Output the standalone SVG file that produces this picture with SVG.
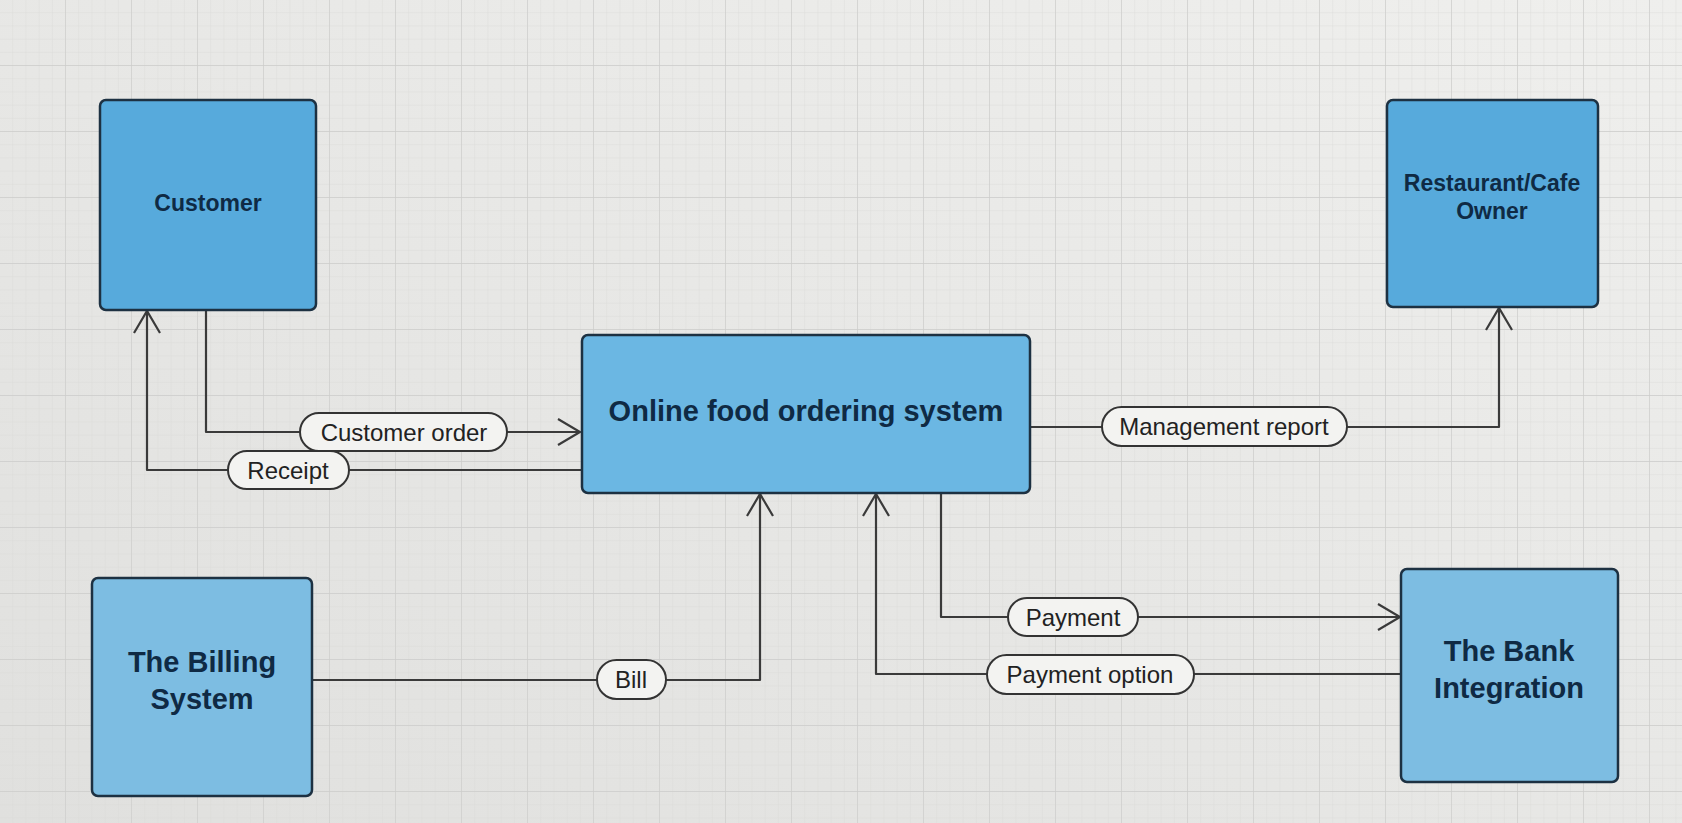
<svg xmlns="http://www.w3.org/2000/svg" width="1682" height="823" viewBox="0 0 1682 823">
<defs>
<pattern id="minor" width="13.2" height="13.2" patternUnits="userSpaceOnUse">
<path d="M13.2,0 V13.2 M0,13.2 H13.2" fill="none" stroke="#d9d9d7" stroke-width="0.8"/>
</pattern>
<pattern id="major" width="66" height="66" patternUnits="userSpaceOnUse">
<path d="M66,0 V66 M0,66 H66" fill="none" stroke="#cdcdcb" stroke-width="1.3"/>
</pattern>
<linearGradient id="bg" x1="1" y1="0" x2="0" y2="1">
<stop offset="0" stop-color="#efefed"/>
<stop offset="1" stop-color="#e0e0de"/>
</linearGradient>
<marker id="arr" markerUnits="userSpaceOnUse" markerWidth="30" markerHeight="30" viewBox="-24 -15 28 30" refX="0" refY="0" orient="auto">
<path d="M-22,-13 L0,0 L-22,13" fill="none" stroke="#3a3a3a" stroke-width="2.2" stroke-linejoin="miter"/>
</marker>
</defs>
<style>
.box{stroke:#1d3142;stroke-width:2.5}
.dark{fill:#57aadc}
.mid{fill:#6bb7e3}
.light{fill:#7dbde2}
.lbl{font-family:"Liberation Sans",Arial,sans-serif;font-weight:bold;fill:#0f2a44;text-anchor:middle;dominant-baseline:central}
.edge{fill:none;stroke:#3a3a3a;stroke-width:2.2;stroke-linejoin:round}
.pill{fill:#f3f3f1;stroke:#333;stroke-width:2}
.pt{font-family:"Liberation Sans",Arial,sans-serif;font-size:24px;fill:#222;text-anchor:middle;dominant-baseline:central}
</style>
<rect width="1682" height="823" fill="url(#bg)"/>
<rect width="1682" height="823" fill="url(#minor)"/>
<rect width="1682" height="823" fill="url(#major)"/>

<g id="connectors">
<g id="e-customer-order">
<path class="edge" d="M206,310 V432 H580" marker-end="url(#arr)"/>
<rect class="pill" x="300" y="413" width="207" height="38" rx="19"/>
<text class="pt" x="404" y="432">Customer order</text>
</g>
<g id="e-receipt">
<path class="edge" d="M582,470 H147 V311" marker-end="url(#arr)"/>
<rect class="pill" x="228" y="451" width="121" height="38" rx="19"/>
<text class="pt" x="288" y="470">Receipt</text>
</g>
<g id="e-management-report">
<path class="edge" d="M1030,427 H1499 V308" marker-end="url(#arr)"/>
<rect class="pill" x="1102" y="407" width="245" height="39" rx="19.5"/>
<text class="pt" x="1224" y="426">Management report</text>
</g>
<g id="e-bill">
<path class="edge" d="M312,680 H760 V494" marker-end="url(#arr)"/>
<rect class="pill" x="597" y="660" width="69" height="39" rx="19.5"/>
<text class="pt" x="631" y="679">Bill</text>
</g>
<g id="e-payment">
<path class="edge" d="M941,493 V617 H1400" marker-end="url(#arr)"/>
<rect class="pill" x="1008" y="598" width="130" height="38" rx="19"/>
<text class="pt" x="1073" y="617">Payment</text>
</g>
<g id="e-payment-option">
<path class="edge" d="M1401,674 H876 V494" marker-end="url(#arr)"/>
<rect class="pill" x="987" y="655" width="207" height="39" rx="19.5"/>
<text class="pt" x="1090" y="674">Payment option</text>
</g>
</g>

<g id="customer">
<rect class="box dark" x="100" y="100" width="216" height="210" rx="6"/>
<text class="lbl" x="208" y="203" font-size="23">Customer</text>
</g>
<g id="restaurant-owner">
<rect class="box dark" x="1387" y="100" width="211" height="207" rx="6"/>
<text class="lbl" x="1492" y="183" font-size="23">Restaurant/Cafe</text>
<text class="lbl" x="1492" y="211" font-size="23">Owner</text>
</g>
<g id="system">
<rect class="box mid" x="582" y="335" width="448" height="158" rx="6"/>
<text class="lbl" x="806" y="411" font-size="29">Online food ordering system</text>
</g>
<g id="billing">
<rect class="box light" x="92" y="578" width="220" height="218" rx="6"/>
<text class="lbl" x="202" y="662" font-size="29">The Billing</text>
<text class="lbl" x="202" y="699" font-size="29">System</text>
</g>
<g id="bank">
<rect class="box light" x="1401" y="569" width="217" height="213" rx="6"/>
<text class="lbl" x="1509" y="651" font-size="29">The Bank</text>
<text class="lbl" x="1509" y="688" font-size="29">Integration</text>
</g>
</svg>
